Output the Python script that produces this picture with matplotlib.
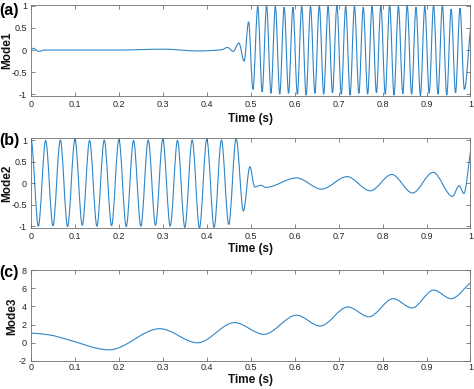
import numpy as np
import matplotlib
matplotlib.use('Agg')
import matplotlib.pyplot as plt
from matplotlib.path import Path
from matplotlib.patches import PathPatch

plt.rcParams['font.family'] = ['Liberation Sans', 'DejaVu Sans']
plt.rcParams['axes.unicode_minus'] = False

# turning points (time in s, value)
mode1_t = [0.0, 0.005, 0.018, 0.03, 0.1, 0.2, 0.3, 0.38, 0.435, 0.447, 0.46, 0.473, 0.485, 0.495, 0.505,
           0.516, 0.526, 0.536, 0.546, 0.556, 0.566, 0.576, 0.586, 0.596, 0.606,
           0.616, 0.626, 0.636, 0.646, 0.656, 0.666, 0.676, 0.686, 0.696, 0.706,
           0.716, 0.726, 0.736, 0.746, 0.756, 0.766, 0.776, 0.786, 0.796, 0.806,
           0.816, 0.826, 0.836, 0.846, 0.856, 0.866, 0.876, 0.886, 0.896, 0.906,
           0.916, 0.926, 0.936, 0.946, 0.956, 0.966, 0.976, 0.986, 1.0]
mode1_v = [0.0, 0.04, -0.03, 0.0, 0.0, 0.0, 0.02, -0.02, 0.01, 0.06, -0.03, 0.16, -0.25, 0.64, -0.89,
           0.99, -0.95, 1.01, -0.98, 0.99, -1.0, 0.97, -0.98, 0.97, -1.0,
           0.99, -1.02, 0.99, -0.98, 1.01, -1.0, 0.99, -0.97, 1.02, -1.0,
           0.99, -1.02, 0.99, -0.98, 0.97, -1.0, 0.99, -0.97, 1.01, -1.0,
           1.02, -1.02, 0.99, -0.99, 1.01, -1.0, 0.97, -1.03, 0.99, -0.98,
           1.02, -1.0, 1.01, -1.02, 0.93, -0.97, 0.95, -0.89, 0.5]

mode2_t = [0.0, 0.0167, 0.0333, 0.05, 0.0667, 0.0833, 0.1, 0.1167, 0.1333, 0.15,
           0.1667, 0.1833, 0.2, 0.2167, 0.2333, 0.25, 0.2667, 0.2833, 0.3, 0.3167,
           0.3333, 0.35, 0.3667, 0.3833, 0.4, 0.4167, 0.4333, 0.45, 0.4667, 0.4833,
           0.498, 0.509, 0.523, 0.534, 0.604, 0.661, 0.719, 0.772, 0.821, 0.868,
           0.915, 0.959, 0.974, 0.985, 1.0]
mode2_v = [1.02, -1.0, 0.99, -0.99, 1.0, -1.01, 1.02, -0.98, 0.99, -1.0,
           1.0, -0.99, 1.01, -1.01, 0.99, -1.0, 1.0, -0.98, 1.02, -1.0,
           0.99, -1.03, 1.0, -1.04, 1.02, -1.03, 1.0, -0.96, 1.04, -0.65,
           0.38, -0.09, -0.05, -0.10, 0.12, -0.14, 0.15, -0.18, 0.20, -0.23,
           0.25, -0.31, -0.06, -0.24, 0.74]

mode3_t = [0.0, 0.043, 0.08, 0.178, 0.293, 0.379, 0.463, 0.53, 0.604, 0.658,
           0.721, 0.769, 0.824, 0.867, 0.916, 0.956, 1.0]
mode3_v = [1.08, 0.86, 0.4, -0.77, 1.55, 0.0, 2.22, 0.93, 3.03, 1.84,
           3.94, 2.86, 4.85, 3.83, 5.79, 4.85, 6.6]

x_ticks = [0, 0.1, 0.2, 0.3, 0.4, 0.5, 0.6, 0.7, 0.8, 0.9, 1]
x_labels = ['0', '0.1', '0.2', '0.3', '0.4', '0.5', '0.6', '0.7', '0.8', '0.9', '1']
y_ticks_ab = [-1, -0.5, 0, 0.5, 1]
y_labels_ab = ['-1', '-0.5', '0', '0.5', '1']
y_ticks_c = [-2, 0, 2, 4, 6, 8]
y_labels_c = ['-2', '0', '2', '4', '6', '8']

W, H = 474, 389
LINE = '#2f86c8'


def smooth_path(t, v, start_slope=None):
    # cubic bezier through the points, flat at turning points
    t = np.asarray(t, float)
    v = np.asarray(v, float)
    h = np.diff(t)
    d = np.diff(v) / h
    m = np.zeros_like(v)
    m[0] = d[0] if start_slope is None else start_slope
    m[-1] = d[-1]
    for i in range(1, len(v) - 1):
        if d[i - 1] * d[i] > 0:
            w1 = 2 * h[i] + h[i - 1]
            w2 = h[i] + 2 * h[i - 1]
            m[i] = (w1 + w2) / (w1 / d[i - 1] + w2 / d[i])
    verts = [(t[0], v[0])]
    codes = [Path.MOVETO]
    for i in range(len(h)):
        verts += [(t[i] + h[i] / 3, v[i] + m[i] * h[i] / 3),
                  (t[i + 1] - h[i] / 3, v[i + 1] - m[i + 1] * h[i] / 3),
                  (t[i + 1], v[i + 1])]
        codes += [Path.CURVE4] * 3
    return Path(verts, codes)


def box(top, bottom):
    return [31 / W, 1 - bottom / H, 439.5 / W, (bottom - top) / H]


fig = plt.figure(figsize=(4.74, 3.89), dpi=100)

panels = [
    (box(5, 96), mode1_t, mode1_v, None, (-1.04, 1.02), y_ticks_ab, y_labels_ab, 3),
    (box(138.3, 228.3), mode2_t, mode2_v, 0.0, (-1.05, 1.04), y_ticks_ab, y_labels_ab, 3),
    (box(270, 361), mode3_t, mode3_v, None, (-2, 8), y_ticks_c, y_labels_c, 1.8),
]

for rect, t, v, s0, ylim, yt, yl, xpad in panels:
    ax = fig.add_axes(rect)
    ax.add_patch(PathPatch(smooth_path(t, v, s0), fill=False, edgecolor=LINE, lw=0.8))
    ax.set_xlim(0, 1)
    ax.set_ylim(*ylim)
    ax.set_xticks(x_ticks)
    ax.set_xticklabels(x_labels)
    ax.set_yticks(yt)
    ax.set_yticklabels(yl)
    ax.tick_params(direction='in', top=True, right=True, length=3, width=0.5,
                   labelsize=6.5, pad=3, color='#555555', labelcolor='#262626')
    ax.tick_params(axis='x', pad=xpad)
    for sp in ax.spines.values():
        sp.set_linewidth(0.6)
        sp.set_color('#6e6e6e')

# axis titles and panel letters
for name, x, y in [('Mode1', 7, 50.5), ('Mode2', 7, 183), ('Mode3', 12.5, 316)]:
    fig.text(x / W, 1 - y / H, name, rotation=90, ha='center', va='center',
             weight='bold', size=8.5, color='#111111')
for y in [119, 249, 380]:
    fig.text(250.5 / W, 1 - y / H, 'Time (s)', ha='center', va='center',
             weight='bold', size=8.5, color='#111111')
for lab, y in [('(a)', 10), ('(b)', 141), ('(c)', 273)]:
    fig.text(-1 / W, 1 - y / H, lab, ha='left', va='center', weight='bold', size=11.5)

fig.savefig('out.png', dpi=100)
